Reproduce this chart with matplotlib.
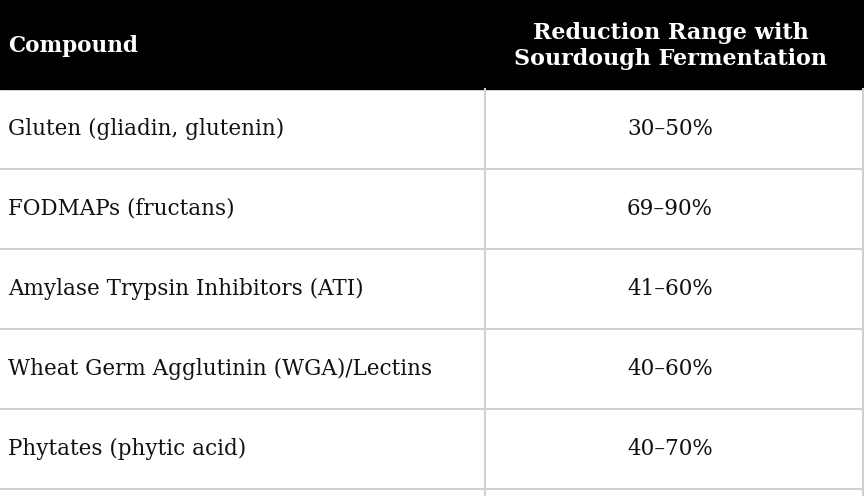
import matplotlib
matplotlib.use("Agg")
import matplotlib.pyplot as plt
from matplotlib.patches import Rectangle

headers = ["Compound", "Reduction Range with\nSourdough Fermentation"]
compounds = ["Gluten (gliadin, glutenin)", "FODMAPs (fructans)",
             "Amylase Trypsin Inhibitors (ATI)",
             "Wheat Germ Agglutinin (WGA)/Lectins", "Phytates (phytic acid)"]
ranges = ["30–50%", "69–90%", "41–60%", "40–60%", "40–70%"]

W, H = 864, 496
fig = plt.figure(figsize=(W/100, H/100), dpi=100)
ax = fig.add_axes([0, 0, 1, 1])
ax.set_xlim(0, W); ax.set_ylim(H, 0); ax.axis("off")

font = "DejaVu Serif"
hdr_h = 89
row_h = 80
div_x = 485
ax.add_patch(Rectangle((0, 0), W, hdr_h, color="black"))
ax.text(8, 46, headers[0], color="white", fontsize=15.5, fontweight="bold",
        family=font, va="center", ha="left")
ax.text(671, 46, headers[1], color="white", fontsize=16, fontweight="bold",
        family=font, va="center", ha="center", linespacing=1.2)

grid = "#d0d0d0"
for i, (c, r) in enumerate(zip(compounds, ranges)):
    top = hdr_h + i * row_h
    yc = top + row_h / 2
    ax.text(8, yc, c, fontsize=15.5, family=font, va="center", ha="left", color="#111111")
    ax.text(670, yc, r, fontsize=15.5, family=font, va="center", ha="center", color="#111111")
    ax.plot([0, W], [top + row_h, top + row_h], color=grid, lw=1.5)
ax.plot([div_x, div_x], [hdr_h, H], color=grid, lw=1.5)
ax.plot([W - 1, W - 1], [hdr_h, H], color=grid, lw=1.5)

fig.savefig("out.png", dpi=100, facecolor="white")
